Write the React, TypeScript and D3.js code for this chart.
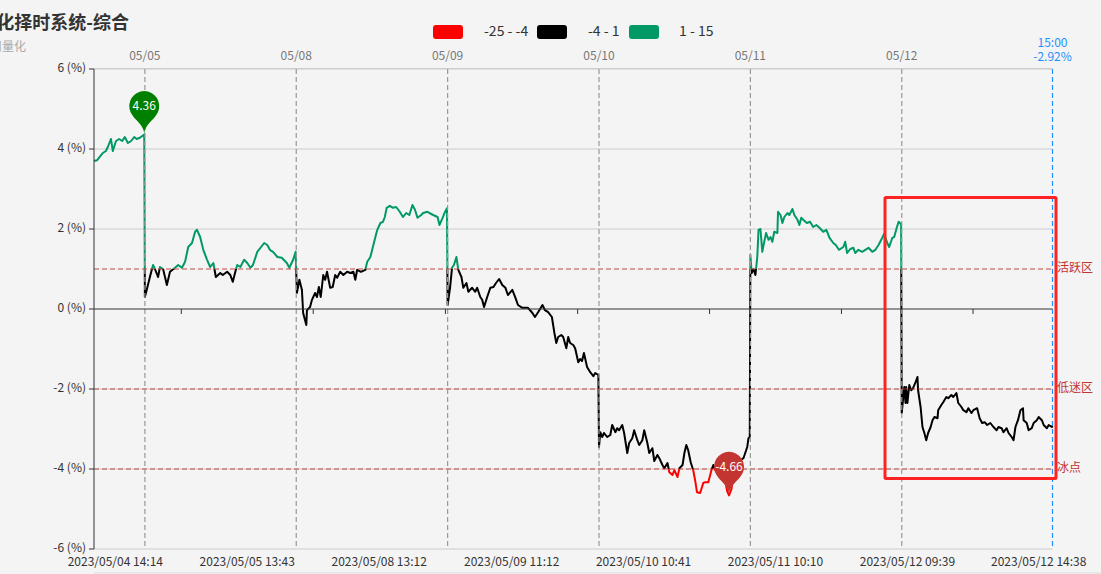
import React from 'react';
import * as d3 from 'd3';

// ---------- data ----------
const days = ['05/04', '05/05', '05/08', '05/09', '05/10', '05/11', '05/12'];
const firstTime = '13:40'; // first category on 05/04
const lastTime = '15:00';

// [minute-slot within the trading day (0 = 09:30, 240 = 15:00), value %]
const d0504: [number, number][] = [
  [160, 3.7], [165, 3.72], [170, 3.82], [174, 3.9], [179, 3.95], [182, 4.05], [187, 4.25], [190, 3.95],
  [195, 4.2], [200, 4.25], [205, 4.2], [209, 4.3], [214, 4.15], [219, 4.2], [224, 4.3], [228, 4.25],
  [233, 4.28], [240, 4.36],
];
const d0505: [number, number][] = [
  [0, 0.3], [3, 0.48], [8, 0.8], [13, 1.1], [16, 1.0], [21, 0.8], [24, 1.05], [29, 1.0], [35, 0.6],
  [40, 0.93], [48, 1.03], [53, 1.1], [59, 1.03], [64, 1.18], [69, 1.55], [75, 1.65], [80, 1.93],
  [83, 1.98], [88, 1.8], [93, 1.48], [99, 1.23], [104, 1.05], [109, 1.15], [113, 0.8], [120, 0.9],
  [124, 0.85], [131, 0.93], [136, 0.85], [140, 0.68], [144, 0.93], [147, 1.1], [152, 1.05],
  [158, 1.23], [163, 1.15], [168, 1.03], [172, 1.1], [179, 1.43], [185, 1.55], [190, 1.65],
  [195, 1.6], [199, 1.48], [204, 1.43], [211, 1.3], [218, 1.28], [226, 1.15], [230, 1.03],
  [236, 1.23], [240, 1.43],
];
const d0508: [number, number][] = [
  [0, 0.9], [1, 0.4], [5, 0.73], [9, 0.48], [11, -0.1], [16, -0.4], [17, -0.03], [22, 0.05],
  [25, 0.23], [30, 0.4], [33, 0.3], [36, 0.55], [39, 0.3], [43, 0.85], [46, 0.73], [49, 0.93],
  [54, 0.53], [58, 0.55], [62, 0.85], [65, 0.78], [70, 0.93], [75, 0.85], [81, 0.93], [86, 0.9],
  [91, 0.93], [94, 0.73], [97, 0.98], [103, 0.93], [110, 0.98], [113, 1.18], [118, 1.3],
  [122, 1.55], [126, 1.8], [129, 1.98], [134, 2.15], [138, 2.18], [141, 2.3], [144, 2.53],
  [149, 2.58], [154, 2.53], [159, 2.55], [164, 2.45], [170, 2.3], [175, 2.4], [180, 2.35],
  [185, 2.6], [189, 2.48], [193, 2.28], [199, 2.35], [202, 2.4], [209, 2.43], [212, 2.4],
  [218, 2.35], [225, 2.3], [228, 2.1], [233, 2.28], [236, 2.4], [240, 2.52],
];
const d0509: [number, number][] = [
  [0, 0.1], [4, 0.55], [7, 1.03], [10, 1.1], [14, 1.3], [17, 0.98], [22, 0.8], [25, 0.53],
  [30, 0.65], [33, 0.43], [39, 0.53], [44, 0.43], [47, 0.53], [52, 0.3], [55, 0.23], [58, 0.05],
  [63, 0.3], [68, 0.53], [73, 0.55], [77, 0.65], [82, 0.75], [87, 0.6], [92, 0.53], [96, 0.35],
  [103, 0.48], [108, 0.28], [112, 0.1], [119, 0.03], [124, 0.03], [128, 0.03], [135, -0.1],
  [139, -0.2], [144, -0.08], [151, 0.1], [155, -0.03], [160, -0.08], [166, -0.2], [170, -0.6],
  [173, -0.85], [176, -0.7], [181, -0.65], [184, -0.7], [189, -0.98], [192, -0.7], [195, -0.85],
  [200, -0.9], [203, -0.98], [208, -1.33], [211, -1.25], [214, -1.3], [217, -1.1], [222, -1.45],
  [227, -1.58], [232, -1.68], [235, -1.6], [240, -1.65],
];
const d0510: [number, number][] = [
  [0, -3.45], [2, -3.08], [5, -3.2], [8, -3.1], [13, -3.2], [18, -3.15], [21, -2.9], [26, -3.08],
  [29, -2.98], [32, -3.03], [37, -2.9], [40, -3.1], [45, -3.6], [48, -3.35], [53, -3.23],
  [56, -3.03], [61, -3.28], [64, -3.4], [69, -3.28], [72, -3.03], [77, -3.35], [80, -3.6],
  [85, -3.48], [88, -3.8], [93, -3.65], [96, -3.73], [101, -3.9], [104, -3.98], [109, -3.85],
  [112, -4.08], [117, -4.15], [120, -4.03], [125, -4.2], [128, -3.98], [133, -3.9], [136, -3.6],
  [139, -3.4], [142, -3.53], [146, -3.83], [150, -4.03], [153, -4.28], [156, -4.58], [161, -4.6],
  [166, -4.35], [169, -4.33], [174, -4.33], [179, -4.03], [182, -3.9], [185, -4.03], [188, -3.98],
  [193, -4.2], [196, -4.05], [201, -4.3], [204, -4.55], [207, -4.66], [211, -4.5], [214, -4.1],
  [220, -3.85], [225, -3.78], [230, -3.73], [236, -3.45], [238, -3.23], [240, -3.2],
];
const d0511: [number, number][] = [
  [0, 1.35], [2, 0.9], [5, 1.0], [8, 0.85], [11, 1.3], [13, 1.98], [16, 2.0], [19, 1.43], [21, 1.6],
  [25, 1.9], [29, 1.73], [32, 1.8], [35, 1.68], [38, 1.93], [43, 1.9], [44, 2.43], [48, 2.35],
  [51, 2.15], [54, 2.3], [59, 2.4], [62, 2.35], [67, 2.5], [70, 2.35], [75, 2.23], [78, 2.1],
  [81, 2.28], [84, 2.23], [90, 2.15], [95, 2.18], [100, 2.05], [105, 2.1], [110, 2.03],
  [116, 1.93], [121, 1.98], [126, 1.78], [132, 1.65], [136, 1.6], [141, 1.48], [148, 1.55],
  [151, 1.68], [154, 1.4], [159, 1.5], [164, 1.53], [167, 1.4], [172, 1.48], [178, 1.43],
  [183, 1.48], [188, 1.53], [194, 1.43], [199, 1.48], [204, 1.6], [210, 1.78], [213, 1.88],
  [218, 1.65], [221, 1.55], [226, 1.78], [229, 1.8], [233, 2.03], [236, 2.18], [240, 2.12],
];
const d0512: [number, number][] = [
  [0, -2.6], [4, -1.95], [6, -2.35], [7, -1.95], [9, -2.35], [12, -1.9], [15, -2.03], [18, -1.98],
  [22, -1.83], [25, -1.7], [26, -2.03], [30, -2.45], [33, -2.95], [36, -3.1], [39, -3.28],
  [42, -3.1], [46, -2.95], [49, -2.78], [52, -2.7], [57, -2.73], [58, -2.53], [63, -2.4],
  [66, -2.33], [71, -2.2], [74, -2.23], [79, -2.15], [82, -2.2], [87, -2.1], [90, -2.35],
  [95, -2.45], [98, -2.53], [103, -2.58], [106, -2.48], [111, -2.6], [114, -2.53], [120, -2.48],
  [124, -2.73], [128, -2.85], [132, -2.83], [136, -2.9], [141, -2.85], [146, -2.95], [151, -3.03],
  [154, -2.95], [159, -2.98], [162, -3.08], [167, -2.98], [170, -3.1], [175, -3.2], [178, -3.28],
  [181, -2.95], [185, -2.78], [189, -2.53], [193, -2.48], [194, -2.78], [199, -2.85], [202, -3.03],
  [207, -2.98], [210, -2.85], [215, -2.78], [218, -2.7], [223, -2.78], [226, -2.9], [231, -2.98],
  [234, -2.9], [239, -2.95], [240, -2.92],
];
const dailySeries = [d0504, d0505, d0508, d0509, d0510, d0511, d0512];

const xLabels = [
  '2023/05/04 14:14', '2023/05/05 13:43', '2023/05/08 13:12', '2023/05/09 11:12',
  '2023/05/10 10:41', '2023/05/11 10:10', '2023/05/12 09:39', '2023/05/12 14:38',
];
const yTicks = [6, 4, 2, 0, -2, -4, -6];
const pieceRanges: [number, number][] = [[-25, -4], [-4, 1], [1, 15]];
const levelValues = [1, -2, -4];
const levelNames = ['活跃区', '低迷区', '冰点'];
const titleText = '量化择时系统-综合';
const subtitleText = '公司量化';

// ---------- styles ----------
const pieceColors = ['#ff0000', '#000000', '#009966'];
const FONT = '"Microsoft YaHei", "Noto Sans CJK SC", sans-serif';

// ---------- helpers ----------
const SLOTS = 241;
function slotOf(t: string) {
  const [h, m] = t.split(':').map(Number);
  const mins = h * 60 + m;
  return mins <= 690 ? mins - 570 : mins - 780 + 120;
}
const firstSlot = slotOf(firstTime);
function dayBase(k: number) {
  return k === 0 ? -firstSlot : SLOTS - firstSlot + (k - 1) * SLOTS;
}
function catIndex(label: string) {
  const [date, time] = label.split(' ');
  const md = date.slice(5);
  return dayBase(days.indexOf(md)) + slotOf(time);
}
const lastIndex = dayBase(days.length - 1) + slotOf(lastTime);

function pinPath(px: number, py: number, size = 50) {
  const w = (size / 5) * 3;
  const h = Math.max(w, size);
  const r = w / 2;
  const dy = (r * r) / (h - r);
  const cy = py - h + r + dy;
  const angle = Math.asin(dy / r);
  const dx = Math.cos(angle) * r;
  const tanX = Math.sin(angle);
  const tanY = Math.cos(angle);
  const cpLen = r * 0.6;
  const cpLen2 = r * 0.7;
  const p = d3.path();
  p.moveTo(px - dx, cy + dy);
  p.arc(px, cy, r, Math.PI - angle, Math.PI * 2 + angle);
  p.bezierCurveTo(px + dx - tanX * cpLen, cy + dy + tanY * cpLen, px, py - cpLen2, px, py);
  p.bezierCurveTo(px, py - cpLen2, px - dx + tanX * cpLen, cy + dy + tanY * cpLen, px - dx, cy + dy);
  p.closePath();
  return { d: p.toString(), cy };
}

export default function App() {
  const W = 1101;
  const H = 574;
  const x = d3.scaleLinear().domain([0, lastIndex]).range([94, 1052.5]);
  const y = d3.scaleLinear().domain([-6, 6]).range([549, 69]);

  const pts: [number, number][] = dailySeries.flatMap((arr, k) =>
    arr.map(([s, v]) => [dayBase(k) + s, v] as [number, number])
  );
  const linePath = d3.line<[number, number]>().x((d) => x(d[0])).y((d) => y(d[1]))(pts) || '';

  const top = y(6);
  const bottom = y(-6);
  const span = bottom - top;
  const off = (v: number) => Math.max(0, Math.min(1, (y(v) - top) / span));

  const maxPt = pts.reduce((a, b) => (b[1] > a[1] ? b : a));
  const minPt = pts.reduce((a, b) => (b[1] < a[1] ? b : a));
  const lastPt = pts[pts.length - 1];

  const labelIdx = xLabels.map(catIndex);
  const tickIdx = labelIdx.slice(0, -1).map((v, i) => (v + labelIdx[i + 1]) / 2);
  const dayStarts = days.slice(1).map((_, i) => dayBase(i + 1));

  const maxPin = pinPath(x(maxPt[0]), y(maxPt[1]));
  const minPin = pinPath(x(minPt[0]), y(minPt[1]));

  const legendX = [433, 537, 629];
  const legendTextX = [484, 588, 679];

  return (
    <svg
      width={W}
      height={H}
      style={{ position: 'absolute', left: 0, top: 0, display: 'block', fontFamily: FONT }}
    >
      <defs>
        <linearGradient id="pieceGrad" gradientUnits="userSpaceOnUse" x1={0} x2={0} y1={top} y2={bottom}>
          <stop offset={0} stopColor={pieceColors[2]} />
          <stop offset={off(pieceRanges[2][0])} stopColor={pieceColors[2]} />
          <stop offset={off(pieceRanges[1][1])} stopColor={pieceColors[1]} />
          <stop offset={off(pieceRanges[1][0])} stopColor={pieceColors[1]} />
          <stop offset={off(pieceRanges[0][1])} stopColor={pieceColors[0]} />
          <stop offset={1} stopColor={pieceColors[0]} />
        </linearGradient>
      </defs>
      <rect x={0} y={0} width={W} height={H} fill="#f4f4f4" />

      {/* title */}
      <text x={129} y={24} textAnchor="end" dominantBaseline="middle" fontSize={18} fontWeight="bold" fill="#333">
        {titleText}
      </text>
      <text x={26} y={48} textAnchor="end" dominantBaseline="middle" fontSize={12} fill="#aaa">
        {subtitleText}
      </text>

      {/* legend */}
      {pieceRanges.map((r, i) => (
        <g key={i}>
          <rect x={legendX[i]} y={25} width={30} height={14} rx={3} fill={pieceColors[i]} />
          <text x={legendTextX[i]} y={32} dominantBaseline="middle" fontSize={14} fill="#333">
            {`${r[0]} - ${r[1]}`}
          </text>
        </g>
      ))}

      {/* horizontal grid */}
      {yTicks.filter((t) => t !== 0).map((t) => (
        <line key={t} x1={94} x2={1052.5} y1={y(t)} y2={y(t)} stroke="#ccc" strokeWidth={1} />
      ))}
      <line x1={94} x2={1052.5} y1={top - 0.5} y2={top - 0.5} stroke="#ccc" strokeWidth={1} />
      <line x1={94} x2={W} y1={573} y2={573} stroke="#ddd" strokeWidth={1} />

      {/* series */}
      <path d={linePath} fill="none" stroke="url(#pieceGrad)" strokeWidth={2} strokeLinejoin="round" />

      {/* horizontal level lines */}
      {levelValues.map((v, i) => (
        <g key={v}>
          <line x1={94} x2={1052.5} y1={y(v)} y2={y(v)} stroke="#c23531" strokeOpacity={0.6} strokeWidth={1.5} strokeDasharray="5,3" />
          <text x={1057} y={y(v)} dominantBaseline="middle" fontSize={12} fill="#c23531">
            {levelNames[i]}
          </text>
        </g>
      ))}

      {/* day separators */}
      {dayStarts.map((d, i) => (
        <g key={d}>
          <line x1={x(d)} x2={x(d)} y1={top} y2={bottom} stroke="#999" strokeWidth={1.2} strokeDasharray="5,3" />
          <text x={x(d)} y={57} textAnchor="middle" dominantBaseline="middle" fontSize={12} fill="#777">
            {days[i + 1]}
          </text>
        </g>
      ))}
      <line x1={x(lastIndex)} x2={x(lastIndex)} y1={top} y2={bottom} stroke="#1e90ff" strokeWidth={1.2} strokeDasharray="5,3" />
      <text x={x(lastIndex)} y={44} textAnchor="middle" dominantBaseline="middle" fontSize={12} fill="#1e90ff">
        {lastTime}
      </text>
      <text x={x(lastIndex)} y={58} textAnchor="middle" dominantBaseline="middle" fontSize={12} fill="#1e90ff">
        {`${lastPt[1].toFixed(2)}%`}
      </text>

      {/* y axis */}
      <line x1={94} x2={94} y1={top} y2={bottom} stroke="#333" strokeWidth={1} />
      {yTicks.map((t) => (
        <g key={t}>
          <line x1={89} x2={94} y1={y(t)} y2={y(t)} stroke="#333" />
          <text x={86} y={y(t)} textAnchor="end" dominantBaseline="middle" fontSize={12} fill="#333">
            {`${t} (%)`}
          </text>
        </g>
      ))}

      {/* x axis at zero */}
      <line x1={94} x2={1052.5} y1={y(0)} y2={y(0)} stroke="#333" strokeWidth={1} />
      {tickIdx.map((t) => (
        <line key={t} x1={x(t)} x2={x(t)} y1={y(0)} y2={y(0) + 5} stroke="#333" />
      ))}
      {xLabels.map((l, i) => (
        <text key={l} x={x(labelIdx[i])} y={563} textAnchor="middle" dominantBaseline="middle" fontSize={12} fill="#333">
          {l}
        </text>
      ))}

      {/* pins */}
      <path d={maxPin.d} fill="#008000" />
      <text x={x(maxPt[0])} y={maxPin.cy + 1} textAnchor="middle" dominantBaseline="middle" fontSize={12} fill="#fff">
        {maxPt[1].toFixed(2)}
      </text>
      <path d={minPin.d} fill="#c23531" />
      <text x={x(minPt[0])} y={minPin.cy + 1} textAnchor="middle" dominantBaseline="middle" fontSize={12} fill="#fff">
        {minPt[1].toFixed(2)}
      </text>

      {/* highlight box */}
      <rect x={885} y={197.5} width={171} height={281} fill="none" stroke="#ff2222" strokeWidth={3} rx={1} />
    </svg>
  );
}
